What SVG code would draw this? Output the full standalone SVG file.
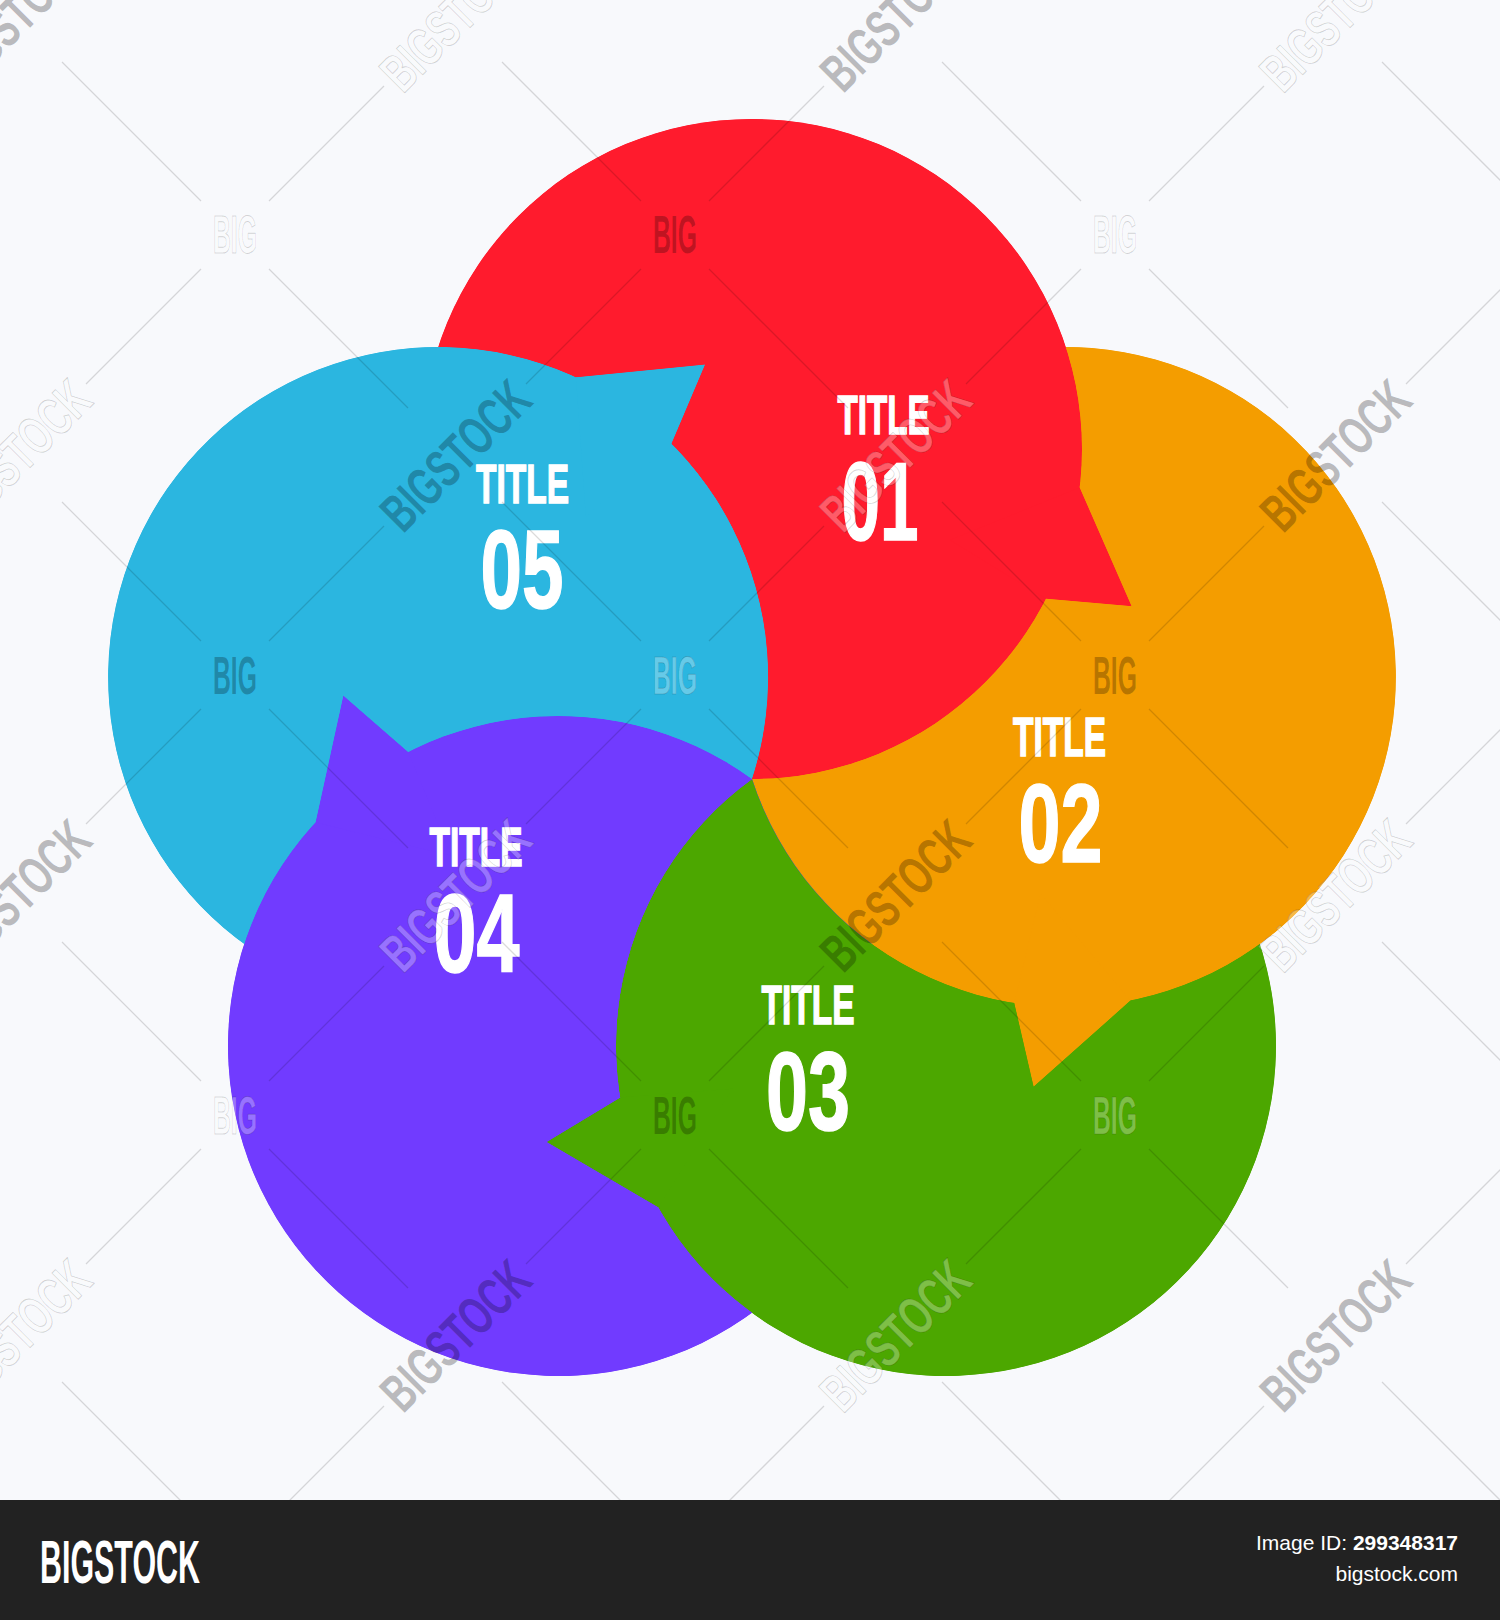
<svg xmlns="http://www.w3.org/2000/svg" width="1500" height="1620" viewBox="0 0 1500 1620">
<style>
.t{font-family:"Liberation Sans",Arial,sans-serif;font-weight:700;fill:#fff;stroke:#fff;stroke-width:1.5;text-anchor:middle}
.tt{font-size:55px}
.nn{font-size:112px}
.wm{font-family:"Liberation Sans",Arial,sans-serif;font-weight:700;text-anchor:middle}
.wd{fill:#000;fill-opacity:.26}
.wl{fill:#fff;fill-opacity:.3;stroke:#000;stroke-opacity:.17;stroke-width:1}
.big{font-size:53px}
.bs{font-size:54px}
.bar{font-family:"Liberation Sans",Arial,sans-serif;fill:#fff}
</style>
<defs>
<g id="bubble"><circle cx="752" cy="449" r="330"/><polygon points="1079.7,487.5 1131.7,606.3 1046,598.8 950,540"/></g>
<use id="shR" href="#bubble"/>
<use id="shO" href="#bubble" transform="rotate(72 752 779)"/>
<use id="shG" href="#bubble" transform="rotate(144 752 779)"/>
<use id="shP" href="#bubble" transform="rotate(216 752 779)"/>
<use id="shB" href="#bubble" transform="rotate(288 752 779)"/>
<mask id="mR" maskUnits="userSpaceOnUse" x="0" y="0" width="1500" height="1620"><use href="#shR" fill="#fff"/><use href="#shB" fill="#000"/><use href="#shP" fill="#000"/></mask>
<mask id="mO" maskUnits="userSpaceOnUse" x="0" y="0" width="1500" height="1620"><use href="#shO" fill="#fff"/><use href="#shR" fill="#000"/><use href="#shB" fill="#000"/></mask>
<mask id="mG" maskUnits="userSpaceOnUse" x="0" y="0" width="1500" height="1620"><use href="#shG" fill="#fff"/><use href="#shO" fill="#000"/><use href="#shR" fill="#000"/></mask>
<mask id="mP" maskUnits="userSpaceOnUse" x="0" y="0" width="1500" height="1620"><use href="#shP" fill="#fff"/><use href="#shG" fill="#000"/><use href="#shO" fill="#000"/></mask>
<mask id="mB" maskUnits="userSpaceOnUse" x="0" y="0" width="1500" height="1620"><use href="#shB" fill="#fff"/><use href="#shP" fill="#000"/><use href="#shG" fill="#000"/></mask>
</defs>
<rect width="1500" height="1620" fill="#F8F9FC"/>
<g id="backdrop">
<use href="#shG" fill="#4CA700"/>
<use href="#shO" fill="#F49D00"/>
<use href="#shR" fill="#FF1B2D"/>
<use href="#shB" fill="#2BB6E0"/>
<use href="#shP" fill="#713BFF"/>
</g>
<g id="node-01">
<use href="#shR" fill="#FF1B2D" mask="url(#mR)"/>
<text class="t tt" x="883.5" y="434" textLength="92" lengthAdjust="spacingAndGlyphs">TITLE</text>
<text class="t nn" x="880" y="540" textLength="77" lengthAdjust="spacingAndGlyphs">01</text>
</g>
<g id="node-02">
<use href="#shO" fill="#F49D00" mask="url(#mO)"/>
<text class="t tt" x="1059.5" y="756" textLength="93" lengthAdjust="spacingAndGlyphs">TITLE</text>
<text class="t nn" x="1060.5" y="862" textLength="84" lengthAdjust="spacingAndGlyphs">02</text>
</g>
<g id="node-03">
<use href="#shG" fill="#4CA700" mask="url(#mG)"/>
<text class="t tt" x="808" y="1024" textLength="93" lengthAdjust="spacingAndGlyphs">TITLE</text>
<text class="t nn" x="808" y="1130" textLength="84" lengthAdjust="spacingAndGlyphs">03</text>
</g>
<g id="node-04">
<use href="#shP" fill="#713BFF" mask="url(#mP)"/>
<text class="t tt" x="476" y="866" textLength="93" lengthAdjust="spacingAndGlyphs">TITLE</text>
<text class="t nn" x="476.5" y="972" textLength="86" lengthAdjust="spacingAndGlyphs">04</text>
</g>
<g id="node-05">
<use href="#shB" fill="#2BB6E0" mask="url(#mB)"/>
<text class="t tt" x="522.5" y="503" textLength="93" lengthAdjust="spacingAndGlyphs">TITLE</text>
<text class="t nn" x="522" y="608" textLength="83" lengthAdjust="spacingAndGlyphs">05</text>
</g>
<g id="connectors"></g>
<g id="watermark">
<path fill="none" stroke="#000" stroke-opacity=".14" stroke-width="1.3" d="M62 62l139 139M502 62l139 139M942 62l139 139M1382 62l139 139M62 502l139 139M502 502l139 139M942 502l139 139M1382 502l139 139M62 942l139 139M502 942l139 139M942 942l139 139M1382 942l139 139M62 1382l139 139M502 1382l139 139M942 1382l139 139M1382 1382l139 139M269 269l139 139M709 269l139 139M1149 269l139 139M269 709l139 139M709 709l139 139M1149 709l139 139M269 1149l139 139M709 1149l139 139M1149 1149l139 139M86 384l115 -115M526 384l115 -115M966 384l115 -115M1406 384l115 -115M86 824l115 -115M526 824l115 -115M966 824l115 -115M1406 824l115 -115M86 1264l115 -115M526 1264l115 -115M966 1264l115 -115M1406 1264l115 -115M269 201l115 -115M709 201l115 -115M1149 201l115 -115M269 641l115 -115M709 641l115 -115M1149 641l115 -115M269 1081l115 -115M709 1081l115 -115M1149 1081l115 -115M269 1521l115 -115M709 1521l115 -115M1149 1521l115 -115"/>
<text class="wm big wl" x="235" y="253" textLength="44" lengthAdjust="spacingAndGlyphs">BIG</text>
<text class="wm big wd" x="675" y="253" textLength="44" lengthAdjust="spacingAndGlyphs">BIG</text>
<text class="wm big wl" x="1115" y="253" textLength="44" lengthAdjust="spacingAndGlyphs">BIG</text>
<text class="wm big wd" x="235" y="694" textLength="44" lengthAdjust="spacingAndGlyphs">BIG</text>
<text class="wm big wl" x="675" y="694" textLength="44" lengthAdjust="spacingAndGlyphs">BIG</text>
<text class="wm big wd" x="1115" y="694" textLength="44" lengthAdjust="spacingAndGlyphs">BIG</text>
<text class="wm big wl" x="235" y="1134" textLength="44" lengthAdjust="spacingAndGlyphs">BIG</text>
<text class="wm big wd" x="675" y="1134" textLength="44" lengthAdjust="spacingAndGlyphs">BIG</text>
<text class="wm big wl" x="1115" y="1134" textLength="44" lengthAdjust="spacingAndGlyphs">BIG</text>
<text class="wm bs wd" x="15" y="34.5" transform="rotate(-45 15 15)" textLength="186" lengthAdjust="spacingAndGlyphs">BIGSTOCK</text>
<text class="wm bs wl" x="455" y="34.5" transform="rotate(-45 455 15)" textLength="186" lengthAdjust="spacingAndGlyphs">BIGSTOCK</text>
<text class="wm bs wd" x="895" y="34.5" transform="rotate(-45 895 15)" textLength="186" lengthAdjust="spacingAndGlyphs">BIGSTOCK</text>
<text class="wm bs wl" x="1335" y="34.5" transform="rotate(-45 1335 15)" textLength="186" lengthAdjust="spacingAndGlyphs">BIGSTOCK</text>
<text class="wm bs wl" x="15" y="474.5" transform="rotate(-45 15 455)" textLength="186" lengthAdjust="spacingAndGlyphs">BIGSTOCK</text>
<text class="wm bs wd" x="455" y="474.5" transform="rotate(-45 455 455)" textLength="186" lengthAdjust="spacingAndGlyphs">BIGSTOCK</text>
<text class="wm bs wl" x="895" y="474.5" transform="rotate(-45 895 455)" textLength="186" lengthAdjust="spacingAndGlyphs">BIGSTOCK</text>
<text class="wm bs wd" x="1335" y="474.5" transform="rotate(-45 1335 455)" textLength="186" lengthAdjust="spacingAndGlyphs">BIGSTOCK</text>
<text class="wm bs wd" x="15" y="914.5" transform="rotate(-45 15 895)" textLength="186" lengthAdjust="spacingAndGlyphs">BIGSTOCK</text>
<text class="wm bs wl" x="455" y="914.5" transform="rotate(-45 455 895)" textLength="186" lengthAdjust="spacingAndGlyphs">BIGSTOCK</text>
<text class="wm bs wd" x="895" y="914.5" transform="rotate(-45 895 895)" textLength="186" lengthAdjust="spacingAndGlyphs">BIGSTOCK</text>
<text class="wm bs wl" x="1335" y="914.5" transform="rotate(-45 1335 895)" textLength="186" lengthAdjust="spacingAndGlyphs">BIGSTOCK</text>
<text class="wm bs wl" x="15" y="1354.5" transform="rotate(-45 15 1335)" textLength="186" lengthAdjust="spacingAndGlyphs">BIGSTOCK</text>
<text class="wm bs wd" x="455" y="1354.5" transform="rotate(-45 455 1335)" textLength="186" lengthAdjust="spacingAndGlyphs">BIGSTOCK</text>
<text class="wm bs wl" x="895" y="1354.5" transform="rotate(-45 895 1335)" textLength="186" lengthAdjust="spacingAndGlyphs">BIGSTOCK</text>
<text class="wm bs wd" x="1335" y="1354.5" transform="rotate(-45 1335 1335)" textLength="186" lengthAdjust="spacingAndGlyphs">BIGSTOCK</text>
</g>
<g id="footer">
<rect x="0" y="1500" width="1500" height="120" fill="#222222"/>
<text class="bar" x="40" y="1583" font-size="62" font-weight="700" textLength="160" lengthAdjust="spacingAndGlyphs">BIGSTOCK</text>
<text class="bar" x="1458" y="1550" font-size="21" text-anchor="end">Image ID: <tspan font-weight="700">299348317</tspan></text>
<text class="bar" x="1458" y="1581" font-size="21" text-anchor="end">bigstock.com</text>
</g>
</svg>
